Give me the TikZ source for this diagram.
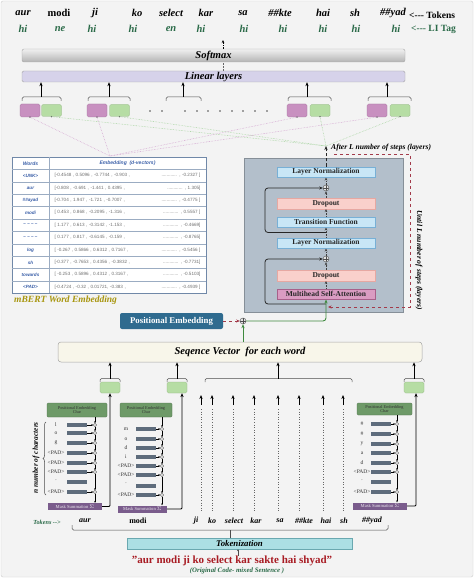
\documentclass[tikz,border=0pt]{standalone}
\usepackage{fontspec}
\setmainfont{Liberation Serif}
\setsansfont{Liberation Sans}
\usetikzlibrary{arrows.meta,positioning,calc,decorations.pathreplacing}
\definecolor{bgc}{HTML}{F3F3F3}
\definecolor{ligreen}{HTML}{2A6A48}
\definecolor{pinkb}{HTML}{C890C0}
\definecolor{pinkl}{HTML}{D3A2CF}
\definecolor{greenb}{HTML}{B6DDA4}
\definecolor{greenlin}{HTML}{A2D29A}
\definecolor{softtop}{HTML}{F0F0F0}
\definecolor{softbot}{HTML}{B4B4B4}
\definecolor{linfill}{HTML}{D6D2EA}
\definecolor{tblue}{HTML}{3A5FA8}
\definecolor{tgray}{HTML}{707070}
\definecolor{tline}{HTML}{7088A8}
\definecolor{olivec}{HTML}{A8960F}
\definecolor{trbox}{HTML}{B3BFCB}
\definecolor{lnfill}{HTML}{C8E6F6}
\definecolor{lndraw}{HTML}{78B0D6}
\definecolor{dofill}{HTML}{F9D0CB}
\definecolor{dodraw}{HTML}{E6A8A2}
\definecolor{mhfill}{HTML}{DA9CC2}
\definecolor{mhdraw}{HTML}{A8608A}
\definecolor{reddc}{HTML}{A33A4A}
\definecolor{pefill}{HTML}{2F6B8F}
\definecolor{greenlc}{HTML}{3E8A3E}
\definecolor{seqfill}{HTML}{F8F6EA}
\definecolor{pecfill}{HTML}{6E9A68}
\definecolor{embr}{HTML}{5E6C7C}
\definecolor{maskf}{HTML}{7A5C8C}
\definecolor{tokf}{HTML}{ACDFE4}
\definecolor{tokd}{HTML}{6AA8B0}
\definecolor{sentc}{HTML}{A81C24}
\newcommand\trow[4]{%
  \node[twd] (w#1) at (30.5,{157+12.4*#1+6.2}) {#2};
  \node[tval] (v#1) at (127.5,{157+12.4*#1+6.2}) {#3\hfill ............ , #4};
}
\begin{document}
\begin{tikzpicture}[x=1pt,y=-1pt,
  ar/.style={-{Stealth[length=4pt,width=3.2pt]},line width=0.9pt},
  sar/.style={-{Stealth[length=2pt,width=1.8pt]},line width=0.4pt},
  dar/.style={-{Stealth[length=3pt,width=2.5pt]},densely dotted,line width=0.6pt,black!75},
  tk/.style={font=\bfseries\itshape\fontsize{10.5}{12}\selectfont,inner sep=0pt},
  tku/.style={font=\bfseries\fontsize{10.5}{12}\selectfont,inner sep=0pt},
  lt/.style={font=\bfseries\itshape\fontsize{10.5}{12}\selectfont,text=ligreen,inner sep=0pt},
  btk/.style={font=\bfseries\itshape\fontsize{8}{10}\selectfont,inner sep=0pt},
  pbox/.style={rounded corners=1.5pt,fill=pinkb,draw=pinkb!80!black,line width=0.3pt,minimum width=20pt,minimum height=13pt,inner sep=0pt},
  gbox/.style={rounded corners=1.5pt,fill=greenb,draw=greenb!80!black,line width=0.3pt,minimum width=20pt,minimum height=12pt,inner sep=0pt},
  brk/.style={line width=0.5pt,black!70,rounded corners=1.5pt},
  twd/.style={font=\sffamily\bfseries\itshape\fontsize{4.6}{5}\selectfont,text=tblue,inner sep=0pt},
  tval/.style={font=\sffamily\fontsize{4.6}{5}\selectfont,text=tgray,text width=146pt,align=left,inner sep=0pt},
  trb/.style={rectangle,line width=0.5pt,minimum width=98pt,minimum height=10.5pt,inner sep=0pt,font=\bfseries\fontsize{7.5}{8}\selectfont,text=black!85},
  opl/.style={circle,draw=black!70,fill=gray!20,minimum size=6pt,inner sep=0pt,line width=0.4pt,
    path picture={\draw[black!70,line width=0.3pt] (path picture bounding box.north)--(path picture bounding box.south) (path picture bounding box.west)--(path picture bounding box.east);}},
  pec/.style={rectangle,rounded corners=1pt,fill=pecfill,draw=pecfill!70!black,line width=0.3pt,inner sep=0pt,align=center,font=\fontsize{4.3}{4.8}\selectfont,text=black!80},
  chl/.style={font=\fontsize{5.5}{6}\selectfont,inner sep=0pt,text=black!80},
  emb/.style={rectangle,fill=embr,minimum width=20pt,minimum height=4pt,inner sep=0pt},
  cpl/.style={circle,draw=black!75,fill=white,minimum size=3.2pt,inner sep=0pt,line width=0.35pt},
  mask/.style={rectangle,fill=maskf,minimum height=7pt,inner sep=0pt,font=\fontsize{4.6}{5}\selectfont,text=white!85!maskf}
]
\useasboundingbox (0,0) rectangle (474,580);
\fill[white] (0,0) rectangle (474,580);
\draw[fill=bgc,draw=gray!40,rounded corners=2pt] (1,1) rectangle (473,577);

% ---------- top tokens ----------
\foreach \x/\t [count=\i] in {23/aur,95/ji,137/ko,171/select,206/kar,243/sa,280/{\#\#kte},323/hai,355/sh,393/{\#\#yad}}
  \node[tk] (tt\i) at (\x,13) {\t};
\node[tku] (ttm) at (59,13) {modi};
\node[tku,font=\bfseries\fontsize{9.5}{10}\selectfont,anchor=west] (ttl) at (409,15) {<-{}-{}- Tokens};
\foreach \x/\t [count=\i] in {23/hi,60/ne,92/hi,133/hi,171/en,201/hi,244/hi,283/hi,323/hi,356/hi,396/hi}
  \node[lt] (li\i) at (\x,29) {\t};
\node[lt,font=\bfseries\fontsize{9.5}{10}\selectfont,anchor=west] (lil) at (411,29) {<-{}-{}- LI Tag};

% ---------- softmax / linear ----------
\node[rectangle,rounded corners=2pt,top color=softtop,bottom color=softbot,draw=gray!70,line width=0.4pt,minimum width=383pt,minimum height=13pt,inner sep=0pt,font=\bfseries\itshape\fontsize{10.5}{12}\selectfont] (soft) at (213.5,55.5) {Softmax};
\node[rectangle,rounded corners=1.5pt,fill=linfill,draw=gray!70,line width=0.4pt,minimum width=383pt,minimum height=11pt,inner sep=0pt,font=\bfseries\itshape\fontsize{10.5}{12}\selectfont] (lin) at (213.5,76.5) {Linear layers};
\coordinate (sm1) at (223,48);
\draw[dar,black] (sm1 |- soft.north) -- (223,40);
\draw[densely dotted,line width=0.5pt,black!60] (sm1 |- lin.north) -- (sm1 |- soft.south);

% ---------- pairs ----------
\foreach \xp/\xg [count=\i] in {30/51.5,97/119.5,297/320,377/400} {
  \node[pbox] (p\i) at (\xp,110.5) {};
  \node[gbox] (g\i) at (\xg,110.5) {};
}
\foreach \xa/\xb/\xm [count=\i] in {22/61/41,88/130/109,166/201/183,288/331/307,368/411/387} {
  \draw[brk] (\xa,101) -- (\xa,97) -- (\xb,97) -- (\xb,101);
  \coordinate (tb\i) at (\xm,97);
  \draw[ar] (tb\i) -- (tb\i |- lin.south);
}
\foreach \x [count=\i] in {150,162,185,197,208,220,232,243,255,267}
  \fill[black!70] (\x,111) circle (0.8pt);

% dotted connections
\coordinate (pc) at (110,156);
\coordinate (gc) at (326,146);
\foreach \i in {1,...,4} {
  \fill[black!70] (p\i.south) circle (0.7pt);
  \fill[black!70] (g\i.south) circle (0.7pt);
  \draw[pinkl,densely dotted,line width=0.55pt] (p\i.south) -- (pc);
  \draw[greenlin,densely dotted,line width=0.55pt] (g\i.south) -- (gc);
}

% ---------- table ----------
\draw[fill=white,draw=tline,line width=0.5pt] (12,157) rectangle (206,{157+12.4*11});
\foreach \k in {1,...,10} \draw[tline!70,line width=0.35pt] (12,{157+12.4*\k}) -- (206,{157+12.4*\k});
\draw[tline!70,line width=0.35pt] (49,157) -- (49,{157+12.4*11});
\node[twd,font=\sffamily\bfseries\itshape\fontsize{5}{6}\selectfont] (wh) at (30.5,163.4) {Words};
\node[twd,font=\sffamily\bfseries\itshape\fontsize{5}{6}\selectfont] (vh) at (127.5,163.4) {Embedding \ (d-vectors)};
\trow{1}{<UNK>}{[-0.4548 , 0.5096 , -0.7744 , -0.903 ,}{-0.2327 ]}
\trow{2}{aur}{[-0.808 , -0.691 , -1.441 , 0.4395 ,}{1.305]}
\trow{3}{\#\#ayad}{[-0.704 , 1.947 , -1.721 , -0.7007 ,}{-0.4775 ]}
\trow{4}{modi}{[ 0.453 , 0.868 , -0.2095 , -1.316 ,}{0.5557 ]}
\trow{5}{-- -- -- --}{[ 1.177 , 0.613 , -0.3142 , -1.153 ,}{-0.4669]}
\trow{6}{-- -- -- --}{[ 0.177 , 0.817 , -0.6145 , -0.159 ,}{-0.8765]}
\trow{7}{log}{[ -0.267 , 0.5866 , 0.6312 , 0.7167 ,}{-0.5456 ]}
\trow{8}{sh}{[-0.377 , -0.7653 , 0.4356 , -0.3832 ,}{-0.7731]}
\trow{9}{towards}{[ -0.253 , 0.5896 , 0.4312 , 0.3167 ,}{-0.5103]}
\trow{10}{<PAD>}{[-0.4724 , -0.32 , 0.01721, -0.383 ,}{-0.4939 ]}
\node[anchor=west,inner sep=0pt,font=\bfseries\itshape\fontsize{9.5}{11}\selectfont,text=olivec] (mb) at (14,300) {mBERT Word Embedding};

% ---------- transformer block ----------
\draw[fill=trbox,draw=trbox!75!black,line width=0.4pt] (244,158) rectangle (403,312);
\node[trb,fill=lnfill,draw=lndraw] (ln1) at (326,172) {Layer Normalization};
\node[opl] (op1) at (326,188) {};
\node[trb,fill=dofill,draw=dodraw] (do1) at (326,203.5) {Dropout};
\node[trb,fill=lnfill,draw=lndraw] (tf) at (326,222) {Transition Function};
\node[trb,fill=lnfill,draw=lndraw] (ln2) at (326,243) {Layer Normalization};
\node[opl] (op2) at (326,259) {};
\node[trb,fill=dofill,draw=dodraw] (do2) at (326,275.5) {Dropout};
\node[trb,fill=mhfill,draw=mhdraw] (mh) at (326,294) {Multihead Self-Attention};
\draw[dar] (mh.north) -- (do2.south);
\draw[dar] (do2.north) -- (op2.south);
\draw[dar] (op2.north) -- (ln2.south);
\draw[dar] (ln2.north) -- (tf.south);
\draw[dar] (tf.north) -- (do1.south);
\draw[dar] (do1.north) -- (op1.south);
\draw[dar] (op1.north) -- (ln1.south);
\draw[-{Stealth[length=4pt,width=3.2pt]},densely dashed,line width=0.8pt,black!85] (ln1.north) -- (gc);
\coordinate (s2) at (326,304);
\coordinate (s1) at (326,232.5);
\draw[-{Stealth[length=3.5pt,width=3pt]},line width=0.8pt,black!85,rounded corners=3pt] (s2) -- (265,304) -- (265,259) -- (op2.west);
\draw[-{Stealth[length=3.5pt,width=3pt]},line width=0.8pt,black!85,rounded corners=3pt] (s1) -- (265,232.5) -- (265,188) -- (op1.west);
\node[anchor=west,inner sep=0pt,font=\bfseries\itshape\fontsize{7.6}{9}\selectfont] (al) at (331,148) {After L number of steps (layers)};
\coordinate (r0) at (334,154);
\coordinate (r3) at (328,307);
\draw[reddc,dashed,line width=0.8pt,-{Stealth[length=3.5pt,width=3pt]}] (r0) -- (410,154) -- (410,307) -- (r3);
\node[rotate=-90,inner sep=0pt,font=\bfseries\itshape\fontsize{7.6}{9}\selectfont] (ul) at (419,260) {Until L number of steps (layers)};

% ---------- positional embedding ----------
\node[rectangle,rounded corners=2pt,fill=pefill,minimum width=103pt,minimum height=16pt,inner sep=0pt,text=white,font=\bfseries\fontsize{8.8}{10}\selectfont] (pe) at (171.5,321) {Positional Embedding};
\node[opl] (op3) at (243,321) {};
\draw[reddc,dashed,line width=0.8pt,-{Stealth[length=3.5pt,width=3pt]}] (pe.east) -- (op3.west);
\draw[greenlc,line width=0.9pt,-{Stealth[length=4pt,width=3.2pt]},rounded corners=3pt] (op3.east) -| (mh.south);

% ---------- sequence vector ----------
\node[rectangle,rounded corners=3pt,fill=seqfill,draw=gray!70,line width=0.5pt,minimum width=364pt,minimum height=20pt,inner sep=0pt,font=\bfseries\itshape\fontsize{10.5}{12}\selectfont] (sv) at (240,352) {Seqence Vector \ for each word};
\draw[greenlc,line width=0.9pt,-{Stealth[length=4pt,width=3.2pt]}] (sv.north -| op3) -- (op3.south);

\node[gbox,minimum height=11pt] (gb1) at (110,387.5) {};
\node[gbox,minimum height=11pt] (gb2) at (177,387.5) {};
\node[gbox,minimum height=11pt] (gb3) at (414,387.5) {};
\foreach \xa/\xb/\xm [count=\i] in {100/120/110,167/187/177,205/352/278,404/424/414} {
  \draw[brk] (\xa,382) -- (\xa,378.5) -- (\xb,378.5) -- (\xb,382);
  \coordinate (sb\i) at (\xm,378.5);
  \draw[ar] (sb\i) -- (sb\i |- sv.south);
}
\foreach \x [count=\i] in {201,212,233,254,278,299,323,343} {
  \coordinate (da\i) at (\x,405);
  \draw[ar] (da\i) -- (\x,395);
  \draw[black!60,dotted,line width=0.6pt] (\x,409) -- (\x,512);
}

% ---------- char block 1 ----------
\node[pec,minimum width=60pt,minimum height=14pt] (pe1) at (77,410) {Positional Embedding\\Char};
\foreach \y/\c [count=\i] in {425/l,433/o,443/g,453/<PAD>,463/<PAD>,472/<PAD>,492/<PAD>} {
  \node[chl] (ca\i) at (56,\y) {\c};
  \node[emb] (ea\i) at (77,\y) {};
  \node[cpl] (ka\i) at (95,\y) {};
  \draw[sar] (ea\i) -- (ka\i);
}
\node[chl] (cad) at (56,480) {.};
\node[emb] (ead) at (77,482) {};
\node[mask,minimum width=54pt] (ms1) at (75,506.5) {Mask Summation $\scriptscriptstyle\Sigma$};
\draw[sar] (pe1.south -| ka1) -- (ka1);
\foreach \i [evaluate=\i as \j using int(\i+1)] in {1,...,6} \draw[sar] (ka\i) -- (ka\j);
\draw[sar] (ka7) -- (ms1.north -| ka7);
\draw[ar,rounded corners=1pt] (ms1.east) -| (gb1.south);
\draw[decorate,decoration={brace,amplitude=3pt},line width=0.5pt,black!70] (46,495) -- (46,422);
\node[rotate=90,inner sep=0pt,font=\bfseries\itshape\fontsize{7.4}{9}\selectfont] (nch) at (36,458) {n number of characters};

% ---------- char block 2 ----------
\node[pec,minimum width=52pt,minimum height=14pt] (pe2) at (146,410) {Positional Embedding\\Char};
\foreach \y/\c [count=\i] in {429/m,439/o,448/d,457/i,466/<PAD>,475/<PAD>,495/<PAD>} {
  \node[chl] (cb\i) at (126,\y) {\c};
  \node[emb] (eb\i) at (146,\y) {};
  \node[cpl] (kb\i) at (162,\y) {};
  \draw[sar] (eb\i) -- (kb\i);
}
\node[chl] (cbd) at (126,483) {.};
\node[emb] (ebd) at (146,486) {};
\node[mask,minimum width=49pt] (ms2) at (142.5,509) {Mask Summation $\scriptscriptstyle\Sigma$};
\draw[sar] (pe2.south -| kb1) -- (kb1);
\foreach \i [evaluate=\i as \j using int(\i+1)] in {1,...,6} \draw[sar] (kb\i) -- (kb\j);
\draw[sar] (kb7) -- (ms2.north -| kb7);
\draw[ar,rounded corners=1pt] (ms2.east) -| ([xshift=5pt]gb2.south);

% ---------- char block 3 ----------
\node[pec,minimum width=55pt,minimum height=12pt] (pe3) at (384.5,409) {Positional Embedding\\Char};
\foreach \y/\c [count=\i] in {424/\#,434/\#,444/y,453/a,463/d,472/<PAD>,492/<PAD>} {
  \node[chl] (cc\i) at (362,\y) {\c};
  \node[emb] (ec\i) at (381,\y) {};
  \node[cpl] (kc\i) at (397,\y) {};
  \draw[sar] (ec\i) -- (kc\i);
}
\node[chl] (ccd) at (362,480) {.};
\node[emb] (ecd) at (381,482) {};
\node[mask,minimum width=54pt] (ms3) at (380,506) {Mask Summation $\scriptscriptstyle\Sigma$};
\draw[sar] (pe3.south -| kc1) -- (kc1);
\foreach \i [evaluate=\i as \j using int(\i+1)] in {1,...,6} \draw[sar] (kc\i) -- (kc\j);
\draw[sar] (kc7) -- (ms3.north -| kc7);
\draw[ar,rounded corners=1pt] (ms3.east) -| ([xshift=2pt]gb3.south);

% ---------- bottom tokens ----------
\node[inner sep=0pt,font=\bfseries\itshape\fontsize{6.2}{7}\selectfont,text=ligreen] (tkl) at (47,522) {Tokens -{}->};
\foreach \x/\t [count=\i] in {85/aur,196/ji,212/ko,234/select,256/kar,280/sa,304/{\#\#kte},326/hai,344/sh,372/{\#\#yad}}
  \node[btk] (bt\i) at (\x,521) {\t};
\node[btk,font=\bfseries\fontsize{8}{10}\selectfont] (btm) at (138,521) {modi};
\draw[brk] (72,525) -- (72,530) -- (388,530) -- (388,525);
\node[rectangle,fill=tokf,draw=tokd,line width=0.4pt,minimum width=225pt,minimum height=11pt,inner sep=0pt,font=\bfseries\itshape\fontsize{8.8}{10}\selectfont] (tkz) at (239.5,543.5) {Tokenization};
\coordinate (bc) at (230,530);
\draw[line width=0.5pt,black!70] (bc) -- (bc |- tkz.north);
\node[inner sep=0pt,font=\bfseries\fontsize{11}{13}\selectfont,text=sentc] (sent) at (232,561) {"aur modi ji ko select kar sakte hai shyad"};
\coordinate (sa) at (238,556);
\draw[-{Stealth[length=2pt,width=2pt]},line width=0.4pt,black!70] (sa) -- (sa |- tkz.south);
\node[inner sep=0pt,font=\bfseries\itshape\fontsize{6.8}{8}\selectfont,text=ligreen] (orig) at (237,571) {(Original Code- mixed Sentence )};
\end{tikzpicture}
\end{document}
